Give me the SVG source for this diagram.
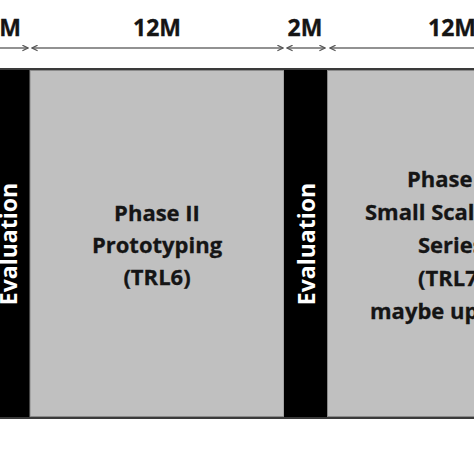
<svg xmlns="http://www.w3.org/2000/svg" width="474" height="474" viewBox="0 0 474 474">
<style>
.lbl{font-family:"Open Sans","Liberation Sans",sans-serif;font-weight:bold;font-size:22px;fill:#151515;stroke:#151515;stroke-width:0.3}
.top{font-size:23px}
.ev{font-family:"Open Sans","Liberation Sans",sans-serif;font-weight:bold;font-size:23px;fill:#fff}
.dim{stroke:#6e6e6e;stroke-width:1.6;fill:none}
.bar{fill:#000}
.box{fill:#c0c0c0;stroke:#8a8a8a;stroke-width:1}
</style>
<defs>
<marker id="ah" viewBox="0 0 10 10" refX="9" refY="5" markerWidth="7" markerHeight="7" markerUnits="userSpaceOnUse" orient="auto-start-reverse">
<path d="M1,1 L9,5 L1,9" fill="none" stroke="#555" stroke-width="1.8"/>
</marker>
</defs>
<rect width="474" height="474" fill="#fff"/>
<g id="connectors">
<line class="dim" x1="-20" y1="48" x2="28" y2="48" marker-end="url(#ah)"/>
<line class="dim" x1="32" y1="48" x2="283" y2="48" marker-start="url(#ah)" marker-end="url(#ah)"/>
<line class="dim" x1="287" y1="48" x2="325" y2="48" marker-start="url(#ah)" marker-end="url(#ah)"/>
<line class="dim" x1="330" y1="48" x2="500" y2="48" marker-start="url(#ah)"/>
</g>
<g id="labels">
<text class="lbl top" x="21" y="36" text-anchor="end">2M</text>
<text class="lbl top" x="157" y="36" text-anchor="middle">12M</text>
<text class="lbl top" x="305" y="36" text-anchor="middle">2M</text>
<text class="lbl top" x="428" y="36">12M</text>
</g>
<rect x="-2" y="68" width="480" height="351" fill="#3a3a3a"/>
<g id="eval1">
<rect class="bar" x="-2" y="70" width="32" height="347"/>
<text class="ev" transform="translate(17,244) rotate(-90)" text-anchor="middle">Evaluation</text>
</g>
<g id="phase2">
<rect class="box" x="30" y="70.5" width="254" height="346"/>
<text class="lbl" x="157" y="221" text-anchor="middle">Phase II</text>
<text class="lbl" x="157" y="253" text-anchor="middle">Prototyping</text>
<text class="lbl" x="157" y="285" text-anchor="middle">(TRL6)</text>
</g>
<g id="eval2">
<rect class="bar" x="284" y="70" width="43" height="347"/>
<text class="ev" transform="translate(315,244) rotate(-90)" text-anchor="middle">Evaluation</text>
</g>
<g id="phase3">
<rect class="box" x="327.5" y="70.5" width="160" height="346"/>
<text class="lbl" x="407" y="187">Phase III</text>
<text class="lbl" x="365" y="220">Small Scale</text>
<text class="lbl" x="418" y="253">Series</text>
<text class="lbl" x="418" y="286">(TRL7)</text>
<text class="lbl" x="370" y="319">maybe up</text>
</g>
</svg>
